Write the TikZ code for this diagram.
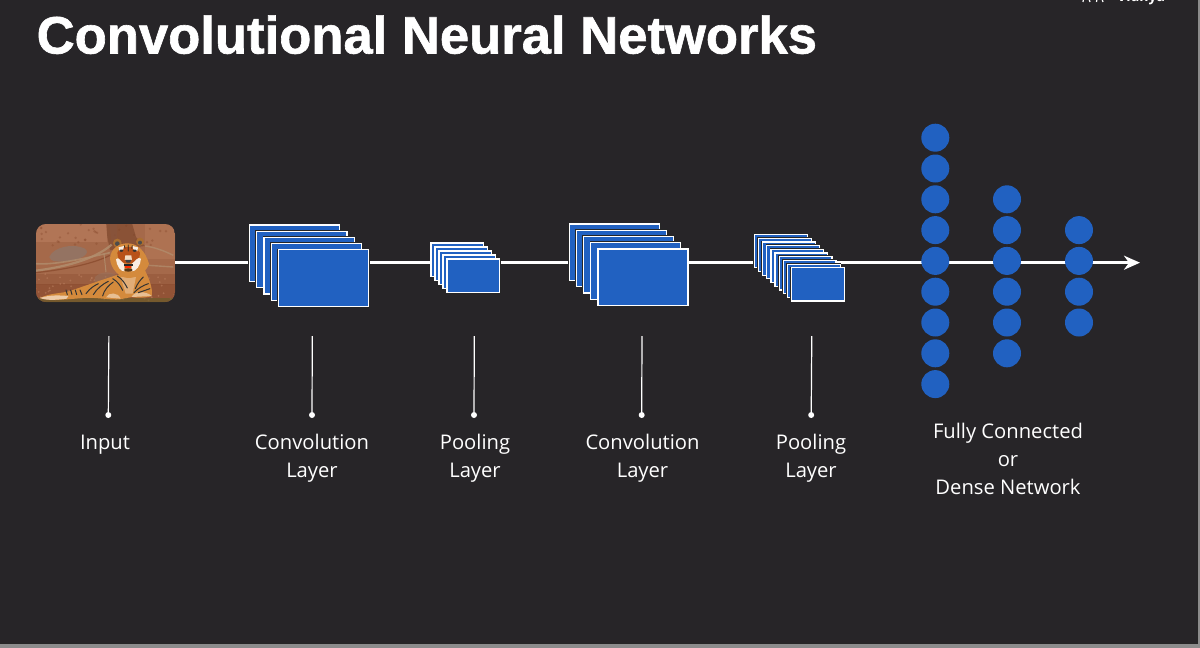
\documentclass[tikz,border=0pt]{standalone}
\usepackage{fontspec}
\setmainfont{Open Sans}
\newfontfamily\titlefont[FakeBold=1.2]{Liberation Sans Bold}
\usetikzlibrary{arrows.meta,calc}
\definecolor{bgdark}{HTML}{272528}
\definecolor{edgegray}{HTML}{8C8C8C}
\definecolor{netblue}{HTML}{2161C1}
\definecolor{tg1}{HTML}{A5694A}
\definecolor{tg2}{HTML}{BC8060}
\definecolor{tg3}{HTML}{8A4B2E}
\definecolor{tgroot}{HTML}{B29070}
\definecolor{tiger}{HTML}{D48A3C}
\definecolor{tigerd}{HTML}{B8521A}
\tikzset{
  x=1pt,y=-1pt,
  layer/.style={draw=white,line width=1.2pt,fill=netblue,anchor=north west,inner sep=0pt,outer sep=0pt,
     preaction={draw=black!85,line width=2.6pt}},
  neuron/.style={circle,fill=netblue,inner sep=0pt,minimum size=28pt,outer sep=0pt},
  pindot/.style={circle,fill=white,inner sep=0pt,minimum size=6pt,outer sep=0pt},
  pin/.style={draw=white,line width=1.2pt},
  lab/.style={text=white,font=\fontsize{20.2}{24}\selectfont,anchor=base,inner sep=0pt},
  mainline/.style={draw=white,line width=2.5pt},
  st/.style={draw=black!80,line width=1pt,line cap=round},
}
\newcommand{\layerstack}[8]{% prefix,x,y,w,h,dx,dy,n
  \foreach \i in {1,...,#8}{
    \node[layer,minimum width=#4pt,minimum height=#5pt] (#1\i) at ({#2+(\i-1)*#6},{#3+(\i-1)*#7}) {};
  }
}
\begin{document}
\begin{tikzpicture}
\useasboundingbox (0,0) rectangle (1200,648);
\clip (0,0) rectangle (1200,648);
\fill[edgegray] (0,0) rectangle (1200,648);
\fill[black!85] (0,0) rectangle (1197.5,643.5);
\fill[bgdark] (0,0) rectangle (1196.5,642.5);

% tiger picture
\node[rectangle,inner sep=0pt,outer sep=0pt,minimum width=139pt,minimum height=78pt,anchor=north west] (input) at (36,224) {};
\begin{scope}
\clip[rounded corners=10pt] (36,224) rectangle (175,302);
\fill[tg1] (36,224) rectangle (175,302);
\begin{scope}[shift={(30,222)},x=0.3333pt,y=-0.3333pt]
\fill[tg2,opacity=.55] (0,0) rectangle (230,60);
\fill[tg2,opacity=.4] (345,0) rectangle (450,110);
\fill[tg3,opacity=.35] (0,155) rectangle (450,190);
\fill[tg3,opacity=.7] (0,185) rectangle (450,240);
\pgfmathsetseed{7}
\foreach \k in {1,...,70}{
  \pgfmathsetmacro{\px}{rnd*440}
  \pgfmathsetmacro{\py}{155+rnd*80}
  \fill[tg2,opacity=.55] (\px,\py) circle (3);
}
\foreach \k in {1,...,40}{
  \pgfmathsetmacro{\px}{rnd*440}
  \pgfmathsetmacro{\py}{rnd*70}
  \fill[tg3,opacity=.4] (\px,\py) circle (4);
}
\fill[tg3!85!black,opacity=.55] (228,0) -- (305,0) -- (318,45) -- (345,72) -- (240,85) -- (232,45) -- cycle;
\fill[tg3!80!gray,opacity=.6] (238,0) -- (262,0) -- (260,60) -- (245,70) -- cycle;
% rock
\fill[gray!45!tg1] (58,105) .. controls (70,75) and (130,62) .. (165,80) .. controls (185,95) and (150,115) .. (110,118) .. controls (90,120) and (58,120) .. (58,105) -- cycle;
% roots
\draw[tgroot,line width=2.2pt,opacity=.8] (18,146) .. controls (100,135) and (190,115) .. (245,68);
\draw[tgroot,line width=1.6pt,opacity=.75] (18,125) .. controls (80,130) and (180,105) .. (240,92);
\draw[tg3,line width=1.2pt,opacity=.8] (18,152) .. controls (110,142) and (190,125) .. (240,100);
\draw[tgroot,line width=1.4pt,opacity=.7] (345,72) .. controls (370,75) and (400,85) .. (430,100);
\draw[tgroot,line width=1.4pt,opacity=.7] (355,130) -- (430,135);
\draw[tgroot,line width=1pt,opacity=.8] (222,95) -- (228,150);
\fill[gray!40!tg1,opacity=.5] (195,165) .. controls (215,145) and (250,148) .. (265,165) -- (240,190) -- (195,185) -- cycle;
\fill[olive!60!black,opacity=.6] (0,228) rectangle (450,245);
% body
\fill[tiger] (30,228) .. controls (60,212) and (100,215) .. (125,205)
  .. controls (170,190) and (220,172) .. (258,160) -- (345,145) .. controls (365,185) and (368,210) .. (365,222)
  .. controls (350,228) and (320,228) .. (305,225) -- (270,232) .. controls (240,235) and (200,225) .. (160,228)
  .. controls (110,232) and (60,238) .. (30,228) -- cycle;
\fill[white!55!tiger] (30,228) .. controls (60,218) and (90,220) .. (115,222) -- (110,230) .. controls (80,234) and (50,236) .. (30,228) -- cycle;
\fill[white!45!tiger] (228,226) .. controls (235,210) and (265,210) .. (272,230) -- cycle;
\fill[white!45!tiger] (305,225) .. controls (312,208) and (345,205) .. (366,222) -- cycle;
\fill[white!30!tiger] (272,165) -- (318,165) -- (308,215) -- (287,215) -- cycle;
% stripes
\foreach \a/\b in {108/112,122/126,136/140,150/156}{\draw[st] (\a,204) -- (\b,218);}
\draw[st] (168,215) .. controls (180,198) and (195,190) .. (205,185);
\draw[st] (190,218) .. controls (200,200) and (220,185) .. (235,178);
\draw[st] (218,222) .. controls (222,205) and (235,190) .. (250,180);
\draw[st] (248,170) .. controls (265,180) and (270,190) .. (278,205);
\draw[st] (262,162) .. controls (278,172) and (285,185) .. (292,198);
\draw[st] (340,165) .. controls (330,175) and (322,185) .. (316,200);
\draw[st] (355,185) .. controls (340,190) and (325,198) .. (312,212);
\draw[st] (360,200) -- (325,212);
% head
\fill[tiger!80!black] (262,63) circle (13);
\fill[tiger!80!black] (330,59) circle (12);
\fill[black!70] (262,65) circle (7);
\fill[black!70] (330,62) circle (6);
\fill[tiger] (240,110) .. controls (242,80) and (265,64) .. (292,64)
  .. controls (322,64) and (345,85) .. (357,125) .. controls (350,150) and (322,168) .. (295,168)
  .. controls (268,168) and (242,140) .. (240,110) -- cycle;
\fill[tigerd] (262,92) .. controls (268,70) and (318,68) .. (330,92) .. controls (330,115) and (312,125) .. (295,125) .. controls (278,125) and (260,112) .. (262,92) -- cycle;
\fill[white!85!tiger] (258,112) .. controls (265,102) and (272,118) .. (282,125) -- (284,148) .. controls (272,150) and (260,132) .. (258,112) -- cycle;
\fill[white!85!tiger] (333,110) .. controls (325,102) and (315,118) .. (306,125) -- (304,148) .. controls (318,150) and (332,130) .. (333,110) -- cycle;
\fill[white!85!tiger] (266,76) -- (282,72) -- (280,82) -- (268,88) -- cycle;
\fill[white!85!tiger] (308,72) -- (324,76) -- (322,88) -- (310,82) -- cycle;
\fill[black!80] (274,86) ellipse (6 and 3.5);
\fill[black!80] (314,86) ellipse (6 and 3.5);
\draw[black!85,line width=.7pt] (295,88) -- (295,68) (283,70) -- (285,80) (307,70) -- (305,80);
\fill[white!70!tiger] (286,100) -- (304,100) -- (306,114) -- (284,114) -- cycle;
\fill[black!75] (286,114) -- (304,114) -- (300,122) -- (290,122) -- cycle;
\fill[black!85] (282,127) rectangle (308,131);
\fill[red!65!orange] (286,131) rectangle (304,137);
\fill[black!60!tiger] (295,144) ellipse (13 and 5);
\end{scope}
\end{scope}

% main arrow
\coordinate (arrowend) at (1140,262.7);
\path (input.east |- arrowend) coordinate (arrowstart);
\draw[draw=black!85,line width=3.6pt] (arrowstart) -- ($(arrowend)+(-10,0)$);
\draw[mainline,-{Stealth[length=16pt,width=14pt,inset=5pt]}] (arrowstart) -- (arrowend);

% layer stacks
\layerstack{ca}{249.5}{225}{90.2}{56.5}{7.2}{6.2}{5}
\layerstack{pa}{431}{243}{52.5}{33.5}{4}{4}{5}
\layerstack{cb}{569.5}{224}{90}{56.5}{7.1}{6.25}{5}
\layerstack{pb}{754.5}{234.5}{52.8}{33.2}{4.1}{3.7}{10}

% neurons
\foreach \i in {0,...,8}{\node[neuron] (na\i) at (935.3,{137.7+\i*30.8}) {};}
\foreach \i in {0,...,5}{\node[neuron] (nb\i) at (1007,{199.3+\i*30.8}) {};}
\foreach \i in {0,...,3}{\node[neuron] (nc\i) at (1079,{230.1+\i*30.8}) {};}

% pins
\foreach \n/\tx/\bx in {a/108.9/108.3,b/312.3/312,c/474.3/474,d/642/641.7,e/811.8/811.2}{
  \coordinate (pt\n) at (\tx,336);
  \node[pindot] (pd\n) at (\bx,415) {};
  \draw[pin] (pt\n) -- (pd\n);
}

% labels
\node[lab] (l1) at (105,449) {Input};
\node[lab] (l2) at (312,449) {Convolution};
\node[lab] (l2b) at (312,477.5) {Layer};
\node[lab] (l3) at (475,449) {Pooling};
\node[lab] (l3b) at (475,477.5) {Layer};
\node[lab] (l4) at (642.5,449) {Convolution};
\node[lab] (l4b) at (642.5,477.5) {Layer};
\node[lab] (l5) at (811,449) {Pooling};
\node[lab] (l5b) at (811,477.5) {Layer};
\node[lab] (l6) at (1008,438) {Fully Connected};
\node[lab] (l6b) at (1008,466) {or};
\node[lab] (l6c) at (1008,494.5) {Dense Network};

% title
\node[text=white,font=\titlefont\fontsize{52.6}{60}\selectfont,anchor=base west,inner sep=0pt] (title) at (36.5,53.5) {Convolutional Neural Networks};

% clipped logo at the top edge
\node[text=white,font=\fontsize{14}{16}\selectfont\bfseries,anchor=base west,inner sep=0pt] (brand) at (1117,1) {Vidhya};
\draw[white,line width=1.2pt] (1083.5,-1) -- (1083,2) (1089,-1) -- (1090,2) (1097,-1) -- (1096.5,2) (1102,-1) -- (1103,2);
\end{tikzpicture}
\end{document}
